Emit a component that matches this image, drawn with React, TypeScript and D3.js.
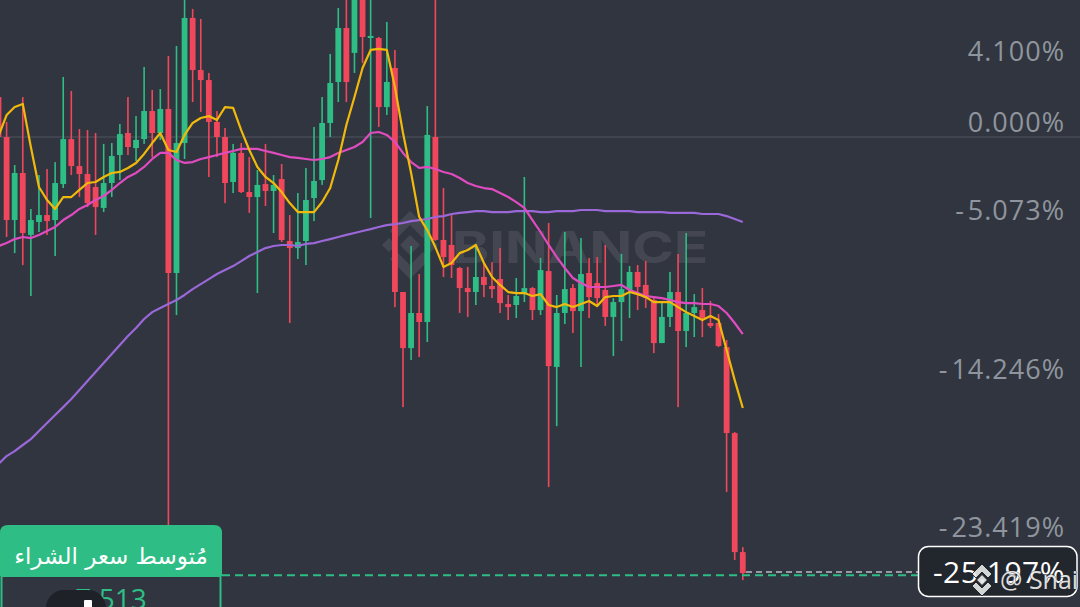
import React from 'react';
import * as d3 from 'd3';

// candle data, values in % (y axis units)
const opens = [2.31, 0, -4.80, -2.08, -5.66, -4.91, -4.51, -4.80, -2.72, -0.12,
  -1.68, -2.14, -2.89, -4.10, -2.66, -1.04, 0.23, -0.64, -0.12, 1.50,
  0.23, 1.62, -7.86, -0.35, 6.88, 3.87, 3.29, 0.87, 0, -2.60,
  -0.92, -3.18, -3.47, -2.72, -3.12, -2.43, -6.01, -6.42, -6.01, -3.53,
  -2.49, 0.81, 3.18, 6.30, 4.86, 8.0, 5.72, 5.72, 1.73, 3.99,
  -8.96, -12.20, -10.17, -10.69, 0, -5.95, -6.24, -7.57, -8.73, -8.96,
  -8.09, -8.61, -8.21, -9.65, -9.71, -9.02, -8.73, -10.00, -7.75, -13.29,
  -10.17, -8.73, -10.06, -7.86, -8.44, -8.84, -10.40, -9.54, -8.84, -7.80,
  -8.55, -9.42, -11.91, -10.40, -8.96, -11.21, -10.17, -10.00, -10.75, -10.75,
  -12.14, -17.11, -23.99];
const highs = [2.43, 0.87, -1.62, 2.31, -4.16, -2.20, -1.85, -1.45, 3.47, 2.66,
  0.46, 0.40, 0.23, -0.40, -0.35, 0.75, 2.31, 1.21, 4.05, 2.72,
  2.77, 4.68, 5.26, 8.21, 7.40, 6.82, 3.70, 1.50, 0.52, -0.40,
  -0.35, -1.16, -1.91, -0.40, -2.20, -1.56, -4.51, -3.24, -1.79, 0.58,
  2.31, 4.80, 7.46, 8.21, 8.6, 8.5, 8.21, 5.78, 6.65, 5.03,
  -8.96, -6.30, -7.92, 1.79, 8.21, -2.95, -4.51, -7.51, -7.51, -6.24,
  -7.23, -7.23, -6.42, -9.13, -8.15, -2.31, -8.67, -6.99, -4.97, -9.13,
  -5.49, -8.50, -5.84, -6.99, -6.94, -6.24, -9.31, -6.76, -7.46, -7.40,
  -7.17, -9.25, -9.54, -7.80, -6.76, -5.55, -9.08, -8.73, -9.48, -10.23,
  -11.73, -17.05, -23.70];
const lows = [-0.17, -5.78, -6.71, -7.40, -9.19, -5.49, -5.66, -6.88, -2.95, -2.20,
  -3.47, -4.05, -5.66, -4.34, -3.47, -2.49, -1.04, -1.39, -0.40, -1.16,
  -0.17, -22.43, -10.29, -1.27, 2.02, 1.45, -2.31, -1.16, -3.82, -3.24,
  -3.24, -4.39, -9.02, -3.99, -5.55, -6.07, -10.75, -7.05, -7.40, -4.86,
  -2.77, 0, 2.02, 2.02, 3.70, 4.28, -4.68, 0.58, 1.27, -9.83,
  -15.61, -12.89, -12.72, -11.85, -6.0, -8.09, -8.15, -10.17, -10.40, -9.71,
  -9.25, -9.31, -10.17, -10.58, -10.46, -9.54, -10.58, -10.29, -20.23, -16.71,
  -10.81, -11.33, -13.29, -10.46, -9.65, -10.92, -12.66, -11.79, -10.46, -10.00,
  -9.88, -12.49, -11.91, -10.98, -15.61, -12.14, -11.56, -11.56, -11.04, -12.14,
  -20.52, -24.45, -25.61];
const closes = [0, -4.80, -2.08, -5.55, -4.80, -4.51, -4.86, -2.66, -0.12, -1.68,
  -2.14, -3.82, -4.05, -2.66, -1.10, 0.17, -0.58, -0.17, 1.50, 0.23,
  1.62, -7.86, -0.35, 6.88, 3.87, 3.29, 0.87, 0, -2.66, -0.92,
  -3.18, -3.47, -2.77, -3.12, -2.77, -5.95, -6.42, -6.07, -3.64, -2.54,
  0.81, 3.12, 6.30, 3.18, 8.0, 5.78, 5.84, 1.73, 3.18, -8.96,
  -12.20, -10.17, -10.69, 0.12, -5.95, -6.94, -7.40, -8.73, -8.96, -8.09,
  -8.55, -8.79, -9.60, -9.83, -9.19, -8.73, -10.00, -7.69, -13.24, -10.17,
  -8.79, -10.06, -7.92, -9.25, -9.31, -10.40, -9.54, -8.79, -7.80, -8.67,
  -9.31, -11.91, -10.40, -8.96, -11.21, -10.17, -9.83, -10.46, -10.92, -12.08,
  -17.11, -23.99, -25.197];

const ma7 = [0.06, 1.27, 1.73, 1.91, -0.58, -2.89, -3.64, -4.16, -3.47, -3.47,
  -3.06, -2.66, -2.60, -2.31, -2.08, -2.02, -1.79, -1.50, -0.98, -0.35,
  0.23, -0.75, -0.87, 0.12, 0.81, 1.10, 1.21, 0.98, 1.73, 1.68,
  0.40, -0.75, -1.73, -2.31, -2.66, -3.18, -3.82, -4.34, -4.34, -4.34,
  -3.76, -2.95, -1.33, 0.69, 2.31, 3.99, 5.03, 5.09, 5.03, 2.89,
  0.23, -2.08, -4.62, -5.38, -6.36, -7.51, -7.28, -6.71, -6.53, -6.24,
  -7.28, -8.09, -8.55, -8.96, -9.02, -9.02, -9.19, -9.08, -9.71, -9.83,
  -9.65, -9.83, -9.65, -9.48, -9.77, -9.25, -9.19, -9.19, -8.96, -9.08,
  -9.25, -9.54, -9.54, -9.54, -9.83, -10.12, -10.35, -10.58, -10.35, -10.58,
  -12.31, -14.05, -15.66];
const ma25 = [-6.30, -6.13, -5.90, -5.78, -5.84, -5.66, -5.43, -5.20, -4.80, -4.51,
  -4.16, -3.93, -3.64, -3.41, -3.06, -2.66, -2.31, -2.08, -1.73, -1.27,
  -0.92, -0.92, -1.33, -1.50, -1.45, -1.27, -1.16, -1.04, -0.92, -0.81,
  -0.69, -0.69, -0.69, -0.81, -0.92, -1.04, -1.16, -1.21, -1.27, -1.33,
  -1.27, -1.16, -0.92, -0.75, -0.58, -0.29, 0.23, 0.29, 0.12, -0.29,
  -0.92, -1.45, -1.79, -1.73, -1.85, -2.02, -2.14, -2.37, -2.66, -2.83,
  -2.95, -3.01, -3.24, -3.47, -3.76, -4.10, -4.80, -5.49, -6.24, -6.94,
  -7.57, -8.15, -8.44, -8.67, -8.67, -8.67, -8.61, -8.55, -8.84, -9.02,
  -9.19, -9.25, -9.31, -9.42, -9.54, -9.60, -9.60, -9.65, -9.65, -9.77,
  -10.17, -10.75, -11.39];
const ma99 = [-18.90, -18.44, -18.15, -17.80, -17.46, -16.99, -16.53, -16.07, -15.61, -15.14,
  -14.62, -14.10, -13.58, -13.06, -12.54, -12.02, -11.50, -11.04, -10.52, -10.12,
  -9.88, -9.65, -9.42, -9.13, -8.79, -8.50, -8.21, -7.92, -7.69, -7.46,
  -7.17, -6.88, -6.65, -6.42, -6.30, -6.24, -6.24, -6.30, -6.18, -6.13,
  -6.01, -5.90, -5.78, -5.66, -5.55, -5.43, -5.32, -5.20, -5.09, -5.03,
  -4.97, -4.86, -4.80, -4.74, -4.62, -4.57, -4.45, -4.39, -4.34, -4.28,
  -4.28, -4.34, -4.34, -4.34, -4.28, -4.28, -4.28, -4.34, -4.34, -4.28,
  -4.28, -4.28, -4.22, -4.22, -4.22, -4.28, -4.28, -4.28, -4.28, -4.34,
  -4.34, -4.34, -4.34, -4.39, -4.39, -4.39, -4.39, -4.45, -4.45, -4.45,
  -4.57, -4.74, -4.91];

const tickValues = [4.1, 0, -5.073, -14.246, -23.419];
const tickLabels = ['4.100%', '0.000%', '-5.073%', '-14.246%', '-23.419%'];
const lastValue = -25.197;
const lastLabel = '-25.197%';
const avgBuyValue = -25.32;
const avgBuyTitle = 'مُتوسط سعر الشراء';
const avgBuyPrice = '7.513';

const GREEN = '#2ebd85';
const RED = '#f0475c';
const BG = '#31353f';

function splitMinus(s: string) {
  if (s.startsWith('-')) {
    return (
      <>
        <tspan>-</tspan>
        <tspan dx={3}>{s.slice(1)}</tspan>
      </>
    );
  }
  return s;
}

export default function App() {
  const W = 1080;
  const H = 607;
  const x = d3.scaleLinear().domain([0, closes.length - 1]).range([-1.5, 742.8]);
  const y = d3.scaleLinear().domain([0, lastValue]).range([137, 573]);
  const lineGen = d3.line<number>().x((_, i) => x(i)).y((d) => y(d)).curve(d3.curveLinear);
  const bodyW = 5.8;
  const wickW = 1.6;
  const yLast = y(lastValue);
  const yAvg = y(avgBuyValue);

  return (
    <svg width={W} height={H} viewBox={`0 0 ${W} ${H}`}
      style={{ position: 'fixed', left: 0, top: 0, display: 'block', background: BG }}>
      <rect x={0} y={0} width={W} height={H} fill={BG} />
      {/* watermark */}
      <g opacity={0.09} fill="#ffffff">
        <g transform="translate(410,245)">
          <rect x={-7} y={-7} width={14} height={14} transform="rotate(45)" />
          <rect x={-23} y={-5} width={10} height={10} transform="translate(-3,0) rotate(45 -18 0)" />
          <rect x={13} y={-5} width={10} height={10} transform="translate(3,0) rotate(45 18 0)" />
          <path d="M0,-34 L20,-14 L13,-7 L0,-20 L-13,-7 L-20,-14 Z" />
          <path d="M0,34 L20,14 L13,7 L0,20 L-13,7 L-20,14 Z" />
        </g>
        <text x={452} y={263} fontFamily="Inter, 'Open Sans', sans-serif" fontWeight={700}
          fontSize={44} textLength={256} lengthAdjust="spacingAndGlyphs">BINANCE</text>
      </g>
      {/* zero line */}
      <line x1={0} x2={W} y1={y(0)} y2={y(0)} stroke="#4f545e" strokeWidth={1} />
      {/* candles */}
      <g>
        {closes.map((c, i) => {
          const o = opens[i];
          const up = c >= o;
          const col = up ? GREEN : RED;
          const top = y(Math.max(o, c));
          const bot = y(Math.min(o, c));
          return (
            <g key={i}>
              <rect x={x(i) - wickW / 2} y={y(highs[i])} width={wickW}
                height={Math.max(1, y(lows[i]) - y(highs[i]))} fill={col} />
              <rect x={x(i) - bodyW / 2} y={top} width={bodyW}
                height={Math.max(1.5, bot - top)} fill={col} />
            </g>
          );
        })}
      </g>
      {/* moving averages */}
      <path d={lineGen(ma99) || ''} fill="none" stroke="#9a68d8" strokeWidth={2.2} strokeLinejoin="round" />
      <path d={lineGen(ma25) || ''} fill="none" stroke="#e04cc0" strokeWidth={2.2} strokeLinejoin="round" />
      <path d={lineGen(ma7) || ''} fill="none" stroke="#f0b90b" strokeWidth={2.2} strokeLinejoin="round" />
      {/* axis labels */}
      {tickValues.map((v, i) => (
        <text key={i} x={1065} y={y(v) - 5} textAnchor="end" fill="#8f959e"
          fontFamily="'Open Sans', sans-serif" fontSize={27} letterSpacing={1}>{splitMinus(tickLabels[i])}</text>
      ))}
      {/* price lines */}
      <line x1={222} x2={918} y1={yAvg} y2={yAvg} stroke={GREEN} strokeWidth={2} strokeDasharray="8 5" />
      <line x1={746} x2={918} y1={yLast - 1} y2={yLast - 1} stroke="#b8bcc4" strokeWidth={1.5} strokeDasharray="6 4" />
      {/* avg buy box */}
      <path d="M0,576 L0,533 Q0,525 8,525 L214,525 Q222,525 222,533 L222,576 Z" fill={GREEN} />
      <text x={111} y={564} textAnchor="middle" fill="#ffffff" fontFamily="'DejaVu Sans', 'Noto Sans', sans-serif"
        fontSize={23} direction="rtl">{avgBuyTitle}</text>
      <rect x={1.5} y={576} width={219} height={40} fill="none" stroke={GREEN} strokeWidth={2} />
      <text x={111} y={609} textAnchor="middle" fill={GREEN} fontFamily="'Open Sans', sans-serif" fontSize={28}>{avgBuyPrice}</text>
      <rect x={46} y={590} width={60} height={36} rx={18} fill="#1e2127" />
      <rect x={84} y={600} width={8} height={10} rx={1} fill="#ffffff" />
      {/* last value box */}
      <rect x={918.5} y={546.5} width={158.5} height={50} rx={10} fill="#22262d" stroke="#ffffff" strokeWidth={1.5} />
      <text x={1065} y={583} textAnchor="end" fill="#ffffff" fontFamily="'Open Sans', sans-serif"
        fontSize={30} letterSpacing={0.5}>{lastLabel}</text>
      {/* user watermark */}
      <g opacity={0.9}>
        <g transform="translate(982,580)" fill="#e8e8e8" stroke="#22262d" strokeWidth={1}>
          <rect x={-4} y={-4} width={8} height={8} transform="rotate(45)" />
          <path d="M0,-16 L10,-6 L6,-2 L0,-8 L-6,-2 L-10,-6 Z" />
          <path d="M0,16 L10,6 L6,2 L0,8 L-6,2 L-10,6 Z" />
        </g>
        <text x={1000} y={589} fill="#f0f0f0" stroke="#22262d" strokeWidth={0.8} paintOrder="stroke"
          fontFamily="'Open Sans', sans-serif" fontSize={25}>@ Snai</text>
      </g>
    </svg>
  );
}
